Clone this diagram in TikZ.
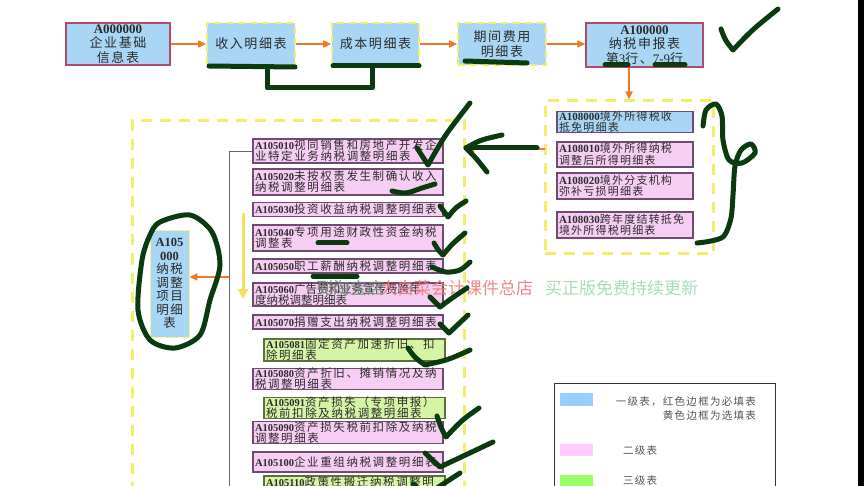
\documentclass[tikz,border=0pt]{standalone}
\usepackage{fontspec}
\usetikzlibrary{arrows.meta}
\newfontfamily\lat{Liberation Serif}
\newfontfamily\cjkT[LetterSpace=12]{Noto Sans CJK SC}
\newfontfamily\cjkC[LetterSpace=14]{Noto Sans CJK SC}
\newfontfamily\cjkR[LetterSpace=11]{Noto Sans CJK SC}
\newfontfamily\cjkN{Noto Sans CJK SC}
\newcommand{\tcode}[1]{{\lat\bfseries #1}}
\newcommand{\ccode}[1]{{\lat\bfseries\fontsize{10.5}{11}\selectfont #1}}
\newcommand{\tnum}[1]{{\lat #1}}
\definecolor{bluefill}{HTML}{A8D6F4}
\definecolor{pinkfill}{HTML}{F7CEF3}
\definecolor{greenfill}{HTML}{D5F4A6}
\definecolor{pinkline}{HTML}{6E4C6E}
\definecolor{greenline}{HTML}{5F6E3F}
\definecolor{redline}{HTML}{B24A6A}
\definecolor{yel}{HTML}{F2EE6A}
\definecolor{yelarrow}{HTML}{F5E25A}
\definecolor{orng}{HTML}{F07A22}
\definecolor{inkgreen}{HTML}{0B3A10}
\definecolor{txt}{HTML}{2B2B2B}
\definecolor{legtxt}{HTML}{555555}
\definecolor{swblue}{HTML}{99CCFF}
\definecolor{swpink}{HTML}{FFCCFF}
\definecolor{swgreen}{HTML}{99FF66}
\definecolor{wmA}{HTML}{6F8F78}
\definecolor{wmB}{HTML}{EE7B7B}
\definecolor{wmC}{HTML}{9ED9B3}
\tikzset{
  tb/.style={fill=bluefill, text=txt, align=center, inner sep=0pt,
    font=\cjkT\fontsize{13}{14.5}\selectfont},
  tbred/.style={tb, draw=redline, line width=1.3pt},
  tbyel/.style={tb, draw=yel, line width=1.6pt, dash pattern=on 7pt off 5pt},
  sb/.style={draw=pinkline, line width=1.1pt, inner xsep=2pt, inner ysep=0pt,
    align=left, text=txt},
  pinkbox/.style={sb, fill=pinkfill, text width=186pt, font=\cjkC\fontsize{11.5}{11}\selectfont},
  greenbox/.style={sb, fill=greenfill, draw=greenline, text width=177pt, font=\cjkC\fontsize{11.5}{11}\selectfont},
  rb/.style={sb, text width=132pt, font=\cjkR\fontsize{11}{11.5}\selectfont},
  ygroup/.style={draw=yel, line width=3pt, dash pattern=on 11pt off 8pt, inner sep=0pt},
  oarrow/.style={draw=orng, line width=1.6pt, -{Triangle[length=8pt,width=7pt]}},
  yarrow/.style={draw=yelarrow, line width=3pt, -{Triangle[length=10pt,width=10pt]}},
  gline/.style={draw=black!60, line width=0.9pt},
  inkline/.style={draw=inkgreen, line width=5pt, line cap=round, line join=round},
  legtext/.style={text=legtxt, inner sep=0pt, font=\cjkT\fontsize{10.5}{12}\selectfont},
  swatch/.style={minimum width=33pt, inner sep=0pt},
  wm/.style={anchor=west, inner sep=0pt, font=\cjkN\fontsize{17}{18}\selectfont}
}
\begin{document}
\begin{tikzpicture}[x=1pt,y=-1pt]
\useasboundingbox (0,0) rectangle (864,486);
\clip (0,0) rectangle (864,486);
\fill[white] (0,0) rectangle (864,486);
\fill[black] (858,0) rectangle (864,486);

% ---------- top row ----------
\node[tbred, minimum width=104pt, minimum height=42pt] (a000) at (118,44) {\tcode{A000000}\\企业基础\\信息表};
\node[tbyel, minimum width=88pt, minimum height=42pt] (sr) at (251,44) {收入明细表};
\node[tbyel, minimum width=87pt, minimum height=42pt] (cb) at (375.5,44) {成本明细表};
\node[tbyel, minimum width=88pt, minimum height=42pt] (qj) at (502,44) {期间费用\\明细表};
\node[tbred, minimum width=117pt, minimum height=44pt] (a100) at (644.5,45) {\tcode{A100000}\\纳税申报表\\第\tnum{3}行、\tnum{7-9}行};
\draw[oarrow] (a000) -- (sr);
\draw[oarrow] (sr) -- (cb);
\draw[oarrow] (cb) -- (qj);
\draw[oarrow] (qj.east) -- (qj.east -| a100.west);

% ---------- right group ----------
\node[ygroup, minimum width=168pt, minimum height=153pt] (rg) at (629,177.5) {};
\draw[oarrow] (a100.south -| rg.north) -- (rg.north);
\node[rb, fill=bluefill, minimum height=20pt] (a108000) at (625,122) {\tcode{A108000}境外所得税收\\抵免明细表};
\node[rb, fill=pinkfill, minimum height=25pt] (a108010) at (625,154.5) {\tcode{A108010}境外所得纳税\\调整后所得明细表};
\node[rb, fill=pinkfill, minimum height=26pt] (a108020) at (625,186) {\tcode{A108020}境外分支机构\\弥补亏损明细表};
\node[rb, fill=pinkfill, minimum height=26pt] (a108030) at (625,225) {\tcode{A108030}跨年度结转抵免\\境外所得税明细表};

% ---------- left group ----------
\node[ygroup, minimum width=332pt, minimum height=400pt, anchor=north west] (lg) at (131,119) {};
\coordinate (rgo) at (545,149);
\draw[oarrow] (rgo) -- (lg.east |- rgo);

\node[pinkbox, minimum height=24pt] (a105010) at (348,151) {\ccode{A105010}视同销售和房地产开发企\\业特定业务纳税调整明细表};
\node[pinkbox, minimum height=26pt] (a105020) at (348,182) {\ccode{A105020}未按权责发生制确认收入\\纳税调整明细表};
\node[pinkbox, minimum height=14pt] (a105030) at (348,209.5) {\ccode{A105030}投资收益纳税调整明细表};
\node[pinkbox, minimum height=26pt] (a105040) at (348,238) {\ccode{A105040}专项用途财政性资金纳税\\调整表};
\node[pinkbox, minimum height=14pt] (a105050) at (348,266) {\ccode{A105050}职工薪酬纳税调整明细表};
\node[pinkbox, minimum height=23pt, font=\cjkN\fontsize{11.5}{11}\selectfont] (a105060) at (348,294.5) {\ccode{A105060}广告费和业务宣传费跨年\\度纳税调整明细表};
\node[pinkbox, minimum height=14pt] (a105070) at (348,322) {\ccode{A105070}捐赠支出纳税调整明细表};
\node[greenbox, minimum height=22pt] (a105081) at (354.5,350) {\ccode{A105081}固定资产加速折旧、扣\\除明细表};
\node[pinkbox, minimum height=20pt] (a105080) at (348,379) {\ccode{A105080}资产折旧、摊销情况及纳\\税调整明细表};
\node[greenbox, minimum height=20pt] (a105091) at (354.5,408) {\ccode{A105091}资产损失（专项申报）\\税前扣除及纳税调整明细表};
\node[pinkbox, minimum height=19pt] (a105090) at (348,432.5) {\ccode{A105090}资产损失税前扣除及纳税\\调整明细表};
\node[pinkbox, minimum height=20pt] (a105100) at (348,462) {\ccode{A105100}企业重组纳税调整明细表};
\node[greenbox, minimum height=24pt] (a105110) at (354.5,488) {\ccode{A105110}政策性搬迁纳税调整明\\细表};

\coordinate (gtop) at (229,151);
\coordinate (gbot) at (229,490);
\draw[gline] (a105010.west) -- (gtop) -- (gbot);

\node[draw=yel!70, line width=0.8pt, fill=bluefill, minimum width=39pt, minimum height=107pt,
  text width=37pt, align=center, inner sep=1pt, text=txt,
  font=\cjkT\fontsize{12.5}{13.5}\selectfont] (a105000) at (169.5,283.5)
  {\tcode{A105}\\\tcode{000}\\纳税\\调整\\项目\\明细\\表};
\coordinate (cola) at (229,277);
\draw[oarrow] (cola) -- (a105000.east |- cola);

\coordinate (ya1) at (243,213);
\coordinate (ya2) at (243,299);
\draw[yarrow] (ya1) -- (ya2);

% ---------- legend ----------
\node[draw=black!80, line width=0.8pt, minimum width=221pt, minimum height=130pt, anchor=north west, inner sep=0pt] (legend) at (554,383) {};
\node[swatch, fill=swblue, minimum height=13pt] (sw1) at (576.5,399.5) {};
\node[legtext, anchor=east] (lt1) at (756,402) {一级表，红色边框为必填表};
\node[legtext, anchor=east] (lt2) at (756,416) {黄色边框为选填表};
\node[swatch, fill=swpink, minimum height=12pt] (sw2) at (576.5,450) {};
\node[legtext, anchor=west] (lt3) at (623,451) {二级表};
\node[swatch, fill=swgreen, minimum height=14pt] (sw3) at (576.5,482) {};
\node[legtext, anchor=west] (lt4) at (623,481) {三级表};

% ---------- watermark ----------
\node[wm, text=wmA, opacity=0.85] (wm1) at (316,288) {到淘宝店};
\node[wm, text=wmB, opacity=0.9] (wm2) at (380,288) {大白菜会计课件总店};
\node[wm, text=wmC, opacity=0.9] (wm3) at (545,288) {买正版免费持续更新};

% ---------- hand-drawn ink ----------
\draw[inkline] (721,29) .. controls (725,40) .. (733,50) .. controls (752,30) .. (778,9);
\draw[inkline] (209,66) -- (295,67);
\draw[inkline] (333,66) -- (419,66);
\draw[inkline] (267,67) -- (267,88) -- (372,88) -- (372,67);
\draw[inkline] (465,61) -- (527,63);
\draw[inkline] (605,65) -- (628,65);
\draw[inkline] (655,65) -- (685,65);
\draw[inkline] plot[smooth] coordinates {(703,126) (706,110) (716,104) (722,116) (723,140) (729,160) (742,163) (755,153) (751,144) (741,150) (735,166) (733,195) (731,218) (724,236) (711,241) (697,243)};
\draw[inkline] (537,148) -- (466,148);
\draw[inkline] (502,135) .. controls (480,140) .. (466,148) .. controls (476,158) .. (487,172);
\draw[inkline] (417,148) .. controls (422,156) .. (428,165) .. controls (445,135) .. (470,103);
\draw[inkline] plot[smooth] coordinates {(392,191) (406,193) (422,188) (435,184)};
\draw[inkline] (440,206) .. controls (444,212) .. (448,217) .. controls (455,208) .. (466,201);
\draw[inkline] (434,243) .. controls (438,250) .. (443,255) .. controls (452,244) .. (465,233);
\draw[inkline] (318,243) -- (347,243);
\draw[inkline] (313,276) -- (357,276);
\draw[inkline] plot[smooth] coordinates {(432,267) (446,272) (460,270) (470,262)};
\draw[inkline] (430,297) .. controls (435,302) .. (440,307) .. controls (452,298) .. (467,288);
\draw[inkline] (440,324) .. controls (444,329) .. (449,333) .. controls (458,324) .. (468,315);
\draw[inkline] (408,348) .. controls (415,358) .. (425,365) .. controls (448,360) .. (470,350);
\draw[inkline] (437,416) .. controls (441,428) .. (446,437) .. controls (462,420) .. (479,408);
\draw[inkline] (425,453) .. controls (432,460) .. (440,467) .. controls (466,455) .. (493,442);
\draw[inkline] (437,488) -- (460,473);
\draw[inkline] (413,484) -- (416,486);
\draw[inkline] plot[smooth cycle] coordinates {(160,222) (190,215) (212,232) (220,265) (210,300) (200,335) (175,348) (150,340) (138,310) (142,260) (150,235)};
\end{tikzpicture}
\end{document}
